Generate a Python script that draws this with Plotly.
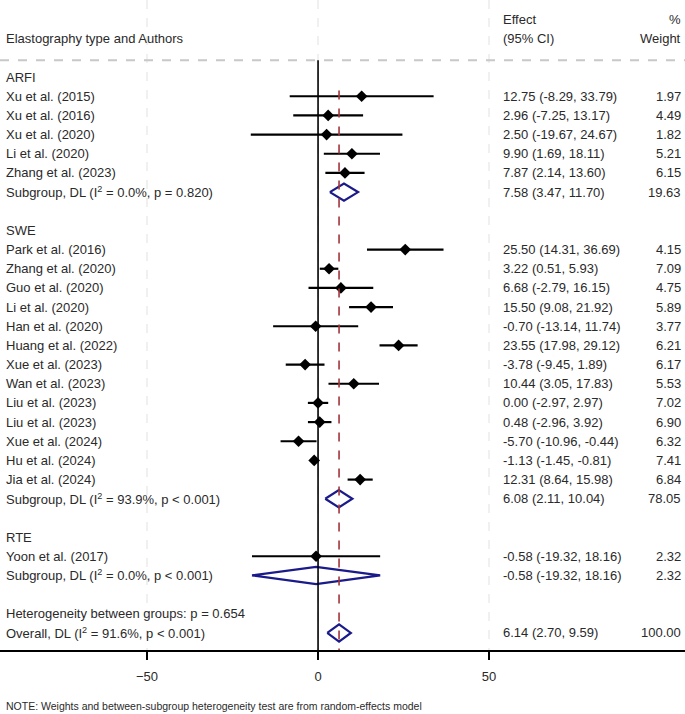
import plotly.graph_objects as go

# study rows (row index counts down the page)
labels = ["Xu et al. (2015)", "Xu et al. (2016)", "Xu et al. (2020)", "Li et al. (2020)",
          "Zhang et al. (2023)",
          "Park et al. (2016)", "Zhang et al. (2020)", "Guo et al. (2020)", "Li et al. (2020)",
          "Han et al. (2020)", "Huang et al. (2022)", "Xue et al. (2023)", "Wan et al. (2023)",
          "Liu et al. (2023)", "Liu et al. (2023)", "Xue et al. (2024)", "Hu et al. (2024)",
          "Jia et al. (2024)",
          "Yoon et al. (2017)"]
rows = [1, 2, 3, 4, 5,
        9, 10, 11, 12, 13, 14, 15, 16, 17, 18, 19, 20, 21,
        25]
est = [12.75, 2.96, 2.50, 9.90, 7.87,
       25.50, 3.22, 6.68, 15.50, -0.70, 23.55, -3.78, 10.44, 0.00, 0.48, -5.70, -1.13, 12.31,
       -0.58]
lo = [-8.29, -7.25, -19.67, 1.69, 2.14,
      14.31, 0.51, -2.79, 9.08, -13.14, 17.98, -9.45, 3.05, -2.97, -2.96, -10.96, -1.45, 8.64,
      -19.32]
hi = [33.79, 13.17, 24.67, 18.11, 13.60,
      36.69, 5.93, 16.15, 21.92, 11.74, 29.12, 1.89, 17.83, 2.97, 3.92, -0.44, -0.81, 15.98,
      18.16]
weight = [1.97, 4.49, 1.82, 5.21, 6.15,
          4.15, 7.09, 4.75, 5.89, 3.77, 6.21, 6.17, 5.53, 7.02, 6.90, 6.32, 7.41, 6.84,
          2.32]

# pooled estimates (subgroups + overall)
pool_labels = ["Subgroup, DL (I<sup>2</sup> = 0.0%, p = 0.820)",
               "Subgroup, DL (I<sup>2</sup> = 93.9%, p < 0.001)",
               "Subgroup, DL (I<sup>2</sup> = 0.0%, p < 0.001)",
               "Overall, DL (I<sup>2</sup> = 91.6%, p < 0.001)"]
pool_rows = [6, 22, 26, 29]
pool_est = [7.58, 6.08, -0.58, 6.14]
pool_lo = [3.47, 2.11, -19.32, 2.70]
pool_hi = [11.70, 10.04, 18.16, 9.59]
pool_weight = [19.63, 78.05, 2.32, 100.00]

groups = ["ARFI", "SWE", "RTE"]
group_rows = [0, 8, 24]

fig = go.Figure()

# confidence interval lines
cx, cy = [], []
for r, a, b in zip(rows, lo, hi):
    cx += [a, b, None]
    cy += [r, r, None]
fig.add_trace(go.Scatter(x=cx, y=cy, mode="lines", line=dict(color="black", width=2.2),
                         hoverinfo="skip"))
fig.add_trace(go.Scatter(x=est, y=rows, mode="markers",
                         marker=dict(symbol="diamond", size=9, color="black")))

# pooled diamonds
h = 0.45
for r, e, a, b in zip(pool_rows, pool_est, pool_lo, pool_hi):
    fig.add_trace(go.Scatter(x=[a, e, b, e, a], y=[r, r - h, r, r + h, r], mode="lines",
                             line=dict(color="#1a1a8a", width=2.2), hoverinfo="skip"))

# reference lines
fig.add_shape(type="line", x0=0, x1=0, y0=-0.88, y1=29.9, line=dict(color="black", width=1.6))
fig.add_shape(type="line", x0=pool_est[-1], x1=pool_est[-1], y0=0.7, y1=29.9,
              line=dict(color="#a3343a", width=1.6, dash="dash"))
fig.add_shape(type="line", xref="paper", x0=0, x1=1, y0=-0.88, y1=-0.88,
              line=dict(color="#c8c8c8", width=2, dash="dash"))

font = dict(family="Liberation Sans, Arial", size=13, color="#2a2a2a")
ann = []


def txt(x, y, s, anchor="left"):
    ann.append(dict(x=x, y=y, xref="paper", yref="y", text=s, showarrow=False,
                    xanchor=anchor, yanchor="middle", font=font))


txt(0.006, -2, "Elastography type and Authors")
txt(0.731, -3.02, "Effect")
txt(0.731, -2, "(95% CI)")
txt(0.997, -3.02, "%", "right")
txt(0.997, -2, "Weight", "right")

for g, r in zip(groups, group_rows):
    txt(0.006, r, g)
for s, r, e, a, b, w in zip(labels, rows, est, lo, hi, weight):
    txt(0.006, r, s)
    txt(0.731, r, f"{e:.2f} ({a:.2f}, {b:.2f})")
    txt(0.997, r, f"{w:.2f}", "right")
for s, r, e, a, b, w in zip(pool_labels, pool_rows, pool_est, pool_lo, pool_hi, pool_weight):
    txt(0.006, r, s)
    txt(0.731, r, f"{e:.2f} ({a:.2f}, {b:.2f})")
    txt(0.997, r, f"{w:.2f}", "right")
txt(0.006, 28, "Heterogeneity between groups: p = 0.654")

ann.append(dict(x=0.006, y=-0.086, xref="paper", yref="paper", showarrow=False,
                xanchor="left", yanchor="middle",
                text="NOTE: Weights and between-subgroup heterogeneity test are from random-effects model",
                font=dict(family="Liberation Sans, Arial", size=10.5, color="#2a2a2a")))

fig.update_layout(
    width=685, height=714,
    margin=dict(l=0, r=0, t=0, b=64),
    plot_bgcolor="white", paper_bgcolor="white",
    showlegend=False,
    annotations=ann,
    xaxis=dict(range=[-93.0, 107.3], tickvals=[-50, 0, 50], showgrid=True,
               gridcolor="#f0f0f0", gridwidth=2, griddash="dash", zeroline=False,
               showline=True, linecolor="black", linewidth=1.6,
               ticks="outside", ticklen=8, tickwidth=1.6, tickcolor="black",
               ticklabelstandoff=6,
               tickfont=dict(family="Liberation Sans, Arial", size=13, color="#2a2a2a")),
    yaxis=dict(range=[29.89, -4.02], showgrid=False, zeroline=False, showticklabels=False,
               showline=False),
)

# drop the page margin so the figure fills the window
fig.write_html("out.html", config={"displayModeBar": False},
               post_script="document.body.style.margin='0';")
